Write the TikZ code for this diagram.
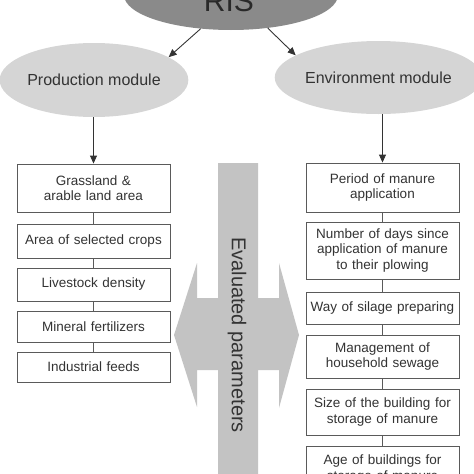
\documentclass[tikz,border=0pt]{standalone}
\usepackage{fontspec}
\setmainfont{Liberation Sans}
\usetikzlibrary{shapes.geometric,arrows.meta}
\definecolor{risgray}{HTML}{8A8A8A}
\definecolor{modgray}{HTML}{D5D5D5}
\definecolor{bargray}{HTML}{C3C3C3}
\definecolor{txtgray}{HTML}{333333}
\definecolor{edgegray}{HTML}{5A5A5A}
\definecolor{arrgray}{HTML}{333333}
\tikzset{
  modell/.style={ellipse, fill=modgray, draw=none, inner sep=0pt,
    text=txtgray, font=\fontsize{16}{18}\selectfont},
  parbox/.style={rectangle, draw=edgegray, line width=0.9pt, fill=white,
    minimum width=153pt, text width=150pt, align=center, inner sep=0pt,
    text=txtgray, font=\fontsize{13.5}{15.6}\selectfont},
  arr/.style={draw=arrgray, line width=0.9pt, -{Triangle[length=8pt,width=7pt]}},
  link/.style={draw=edgegray, line width=0.9pt}
}
\begin{document}
\begin{tikzpicture}[x=1pt,y=-1pt]
\useasboundingbox (0,0) rectangle (474,474);
\clip (0,0) rectangle (474,474);
% central evaluated-parameters shape
\fill[bargray] (218,163) -- (258,163) -- (258,298) -- (279,298) -- (279,263)
  -- (299,335) -- (279,408) -- (279,370) -- (258,370) -- (258,490) -- (218,490)
  -- (218,370) -- (197,370) -- (197,407) -- (174,335) -- (197,263) -- (197,298)
  -- (218,298) -- cycle;
\node[rotate=-90, text=txtgray, font=\fontsize{20}{22}\selectfont] (evp) at (237,335) {Evaluated parameters};
% top
\node[ellipse, fill=risgray, minimum width=214pt, minimum height=70pt, inner sep=0pt] (RIS) at (231,-5) {};
\node[text=txtgray!80!black, font=\fontsize{30}{32}\selectfont, inner sep=0pt] (ristext) at (229,1) {RIS};
\node[modell, minimum width=186pt, minimum height=74pt] (prod) at (94,80) {Production module};
\node[modell, minimum width=190pt, minimum height=73pt] (env) at (378.5,77.5) {Environment module};
% left boxes
\node[parbox, minimum height=48pt] (lb1) at (93.5,188) {Grassland \&\\arable land area};
\node[parbox, minimum height=34pt] (lb2) at (93.5,241) {Area of selected crops};
\node[parbox, minimum height=33pt] (lb3) at (93.5,284.5) {Livestock density};
\node[parbox, minimum height=31pt] (lb4) at (93.5,326.5) {Mineral fertilizers};
\node[parbox, minimum height=30pt] (lb5) at (93.5,367) {Industrial feeds};
% right boxes
\node[parbox, minimum height=49pt] (rb1) at (382.5,187.5) {Period of manure\\application};
\node[parbox, minimum height=57pt] (rb2) at (382.5,250.5) {Number of days since\\application of manure\\to their plowing};
\node[parbox, minimum height=32pt] (rb3) at (382.5,308) {Way of silage preparing};
\node[parbox, minimum height=43pt] (rb4) at (382.5,356.5) {Management of\\household sewage};
\node[parbox, minimum height=46pt] (rb5) at (382.5,412) {Size of the building for\\storage of manure};
\node[parbox, minimum height=46pt] (rb6) at (382.5,469) {Age of buildings for\\storage of manure};
% arrows
\draw[arr] (RIS.228) -- (prod.17);
\draw[arr] (RIS.-42) -- (env.165);
\draw[arr] (prod.south -| lb1.north) -- (lb1.north);
\draw[arr] (env.south -| rb1.north) -- (rb1.north);
% links
\draw[link] (lb1) -- (lb2);
\draw[link] (lb2) -- (lb3);
\draw[link] (lb3) -- (lb4);
\draw[link] (lb4) -- (lb5);
\draw[link] (rb1) -- (rb2);
\draw[link] (rb2) -- (rb3);
\draw[link] (rb3) -- (rb4);
\draw[link] (rb4) -- (rb5);
\draw[link] (rb5) -- (rb6);
\end{tikzpicture}
\end{document}
